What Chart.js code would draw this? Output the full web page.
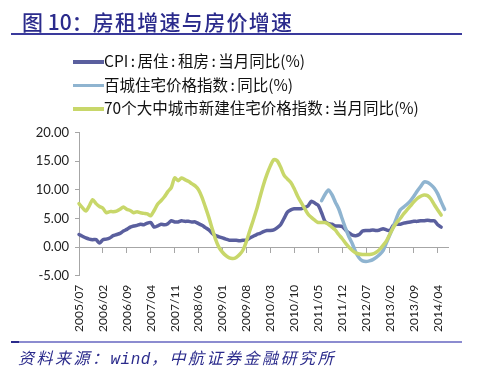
<!DOCTYPE html>
<html><head><meta charset="utf-8">
<script src="https://cdn.jsdelivr.net/npm/chart.js@4"></script>
<style>
html,body{margin:0;padding:0;background:#fff;}
#wrap{position:relative;width:480px;height:379px;overflow:hidden;background:#fff;}
#c{position:absolute;left:0;top:0;}
.title{position:absolute;left:22px;top:8px;font:500 21px "Noto Sans CJK SC";color:#2b2b8c;white-space:nowrap;line-height:26px;}
.title .cj{letter-spacing:1.3px;}
.rule1{position:absolute;left:11px;top:33px;width:451px;height:2px;background:#3a3a9c;}
.rule2{position:absolute;left:11px;top:341px;width:451px;height:2px;background:#8c8cd0;}
.rule2b{position:absolute;left:11px;top:341px;width:8px;height:2px;background:#2b2b8c;}
.src{position:absolute;left:18px;top:347px;font:italic 16px "Noto Sans CJK SC";letter-spacing:2.5px;color:#2b2b8c;white-space:nowrap;line-height:20px;}
.src .en{font-family:"Liberation Mono";letter-spacing:0.5px;}
#legend{position:absolute;left:73px;top:49px;}
.li{height:23.5px;line-height:20px;white-space:nowrap;font:15.5px "Noto Sans CJK SC";color:#111;}
.li .cl{margin:0 2.5px;}
.sw{display:inline-block;width:31px;height:3.5px;vertical-align:middle;margin-right:0px;position:relative;top:-1px;}
</style></head>
<body>
<div id="wrap">
<canvas id="c" width="480" height="379"></canvas>
<div class="title">图 10：<span class="cj">房租增速与房价增速</span></div>
<div class="rule1"></div>
<div id="legend"></div>
<div class="rule2"></div><div class="rule2b"></div>
<div class="src">资料来源：<span class="en">wind</span>，中航证券金融研究所</div>
</div>
<script>
// Categories (monthly, 2005/07 .. 2014/07)
const months = [
 '2005/07','2005/08','2005/09','2005/10','2005/11','2005/12',
 '2006/01','2006/02','2006/03','2006/04','2006/05','2006/06','2006/07','2006/08','2006/09','2006/10','2006/11','2006/12',
 '2007/01','2007/02','2007/03','2007/04','2007/05','2007/06','2007/07','2007/08','2007/09','2007/10','2007/11','2007/12',
 '2008/01','2008/02','2008/03','2008/04','2008/05','2008/06','2008/07','2008/08','2008/09','2008/10','2008/11','2008/12',
 '2009/01','2009/02','2009/03','2009/04','2009/05','2009/06','2009/07','2009/08','2009/09','2009/10','2009/11','2009/12',
 '2010/01','2010/02','2010/03','2010/04','2010/05','2010/06','2010/07','2010/08','2010/09','2010/10','2010/11','2010/12',
 '2011/01','2011/02','2011/03','2011/04','2011/05','2011/06','2011/07','2011/08','2011/09','2011/10','2011/11','2011/12',
 '2012/01','2012/02','2012/03','2012/04','2012/05','2012/06','2012/07','2012/08','2012/09','2012/10','2012/11','2012/12',
 '2013/01','2013/02','2013/03','2013/04','2013/05','2013/06','2013/07','2013/08','2013/09','2013/10','2013/11','2013/12',
 '2014/01','2014/02','2014/03','2014/04','2014/05','2014/06','2014/07'
];
// Tick labels shown on the category axis
const tickLabels = ['2005/07','2006/02','2006/09','2007/04','2007/11','2008/06','2009/01','2009/08',
 '2010/03','2010/10','2011/05','2011/12','2012/07','2013/02','2013/09','2014/04'];
const yTicks = [-5, 0, 5, 10, 15, 20];

const seriesNames = ['CPI:居住:租房:当月同比(%)', '百城住宅价格指数:同比(%)', '70个大中城市新建住宅价格指数:当月同比(%)'];

// CPI rent YoY, from 2005/07
const cpiRent = [2.2,1.9,1.6,1.4,1.3,1.3,0.7,1.3,1.4,1.6,
 2.0,2.2,2.4,2.8,3.1,3.5,3.7,3.8,4.0,3.9,
 4.2,4.3,3.5,3.7,4.0,3.9,4.1,4.6,4.4,4.4,
 4.6,4.5,4.5,4.4,4.4,4.1,3.8,3.4,3.0,2.4,
 2.0,1.8,1.6,1.4,1.2,1.2,1.2,1.1,1.2,1.2,
 1.6,1.9,2.2,2.4,2.7,2.9,2.9,3.0,3.4,3.9,
 5.0,6.1,6.5,6.7,6.7,6.7,6.9,7.2,8.0,7.7,
 7.3,6.0,4.5,4.1,4.0,3.7,3.7,3.6,3.0,2.5,
 2.1,2.0,2.2,2.8,2.9,2.9,3.0,2.9,3.0,3.2,
 3.0,2.9,3.8,4.0,4.0,4.2,4.3,4.4,4.5,4.5,
 4.6,4.6,4.7,4.6,4.6,3.9,3.5];
const cpiRentStart = '2005/07';

// 100-city housing price index YoY, from 2011/06
const hundredCity = [8.1,9.2,10.0,9.2,7.9,6.7,5.0,3.3,1.8,0.6,
 -0.9,-1.9,-2.4,-2.5,-2.4,-2.2,-1.8,-1.3,-0.6,0.8,
 2.2,3.6,5.2,6.5,7.0,7.5,8.1,8.9,9.8,10.6,
 11.4,11.3,10.9,10.3,9.3,7.9,6.6];
const hundredCityStart = '2011/06';

// 70 large/medium cities new housing price index YoY, from 2005/07
const seventyCity = [7.6,6.9,6.3,7.2,8.3,7.6,7.1,6.8,6.0,6.2,
 6.2,6.3,6.6,7.0,6.6,6.4,6.0,6.2,6.0,5.9,
 5.8,5.5,6.4,7.5,8.1,8.8,9.7,10.4,12.1,11.6,
 12.1,11.8,11.5,11.1,10.7,10.0,8.7,7.0,5.2,3.2,
 1.3,-0.1,-0.9,-1.5,-1.9,-2.0,-1.8,-1.3,-0.5,1.0,
 2.9,4.7,6.6,8.8,10.9,12.7,14.2,15.3,15.1,14.0,
 12.6,11.9,11.3,10.2,8.9,7.8,6.8,5.8,5.2,4.7,
 4.3,4.3,4.3,4.0,3.5,3.0,2.2,1.5,0.7,0.0,
 -0.6,-1.0,-1.2,-1.3,-1.3,-1.3,-1.2,-0.9,-0.4,0.3,
 1.1,2.3,3.4,4.3,5.0,5.8,6.5,7.2,7.9,8.5,
 8.9,9.1,9.0,8.4,7.4,6.5,5.6];
const seventyCityStart = '2005/07';

function align(values, start) {
  const s = months.indexOf(start);
  return months.map((m, i) => (i - s >= 0 && i - s < values.length) ? values[i - s] : null);
}

const colors = ['#5a5f9e', '#8fb4d0', '#c8d76a'];
const AXIS = '#a6a6a6';

const chart = new Chart(document.getElementById('c'), {
  type: 'line',
  data: {
    labels: months,
    datasets: [
      {label: seriesNames[0], data: align(cpiRent, cpiRentStart), borderColor: colors[0], order: 3},
      {label: seriesNames[1], data: align(hundredCity, hundredCityStart), borderColor: colors[1], order: 2},
      {label: seriesNames[2], data: align(seventyCity, seventyCityStart), borderColor: colors[2], order: 1}
    ].map(d => Object.assign(d, {borderWidth: 3.5, pointRadius: 0, tension: 0.25, fill: false, spanGaps: false, clip: 6, borderCapStyle: 'round', borderJoinStyle: 'round'}))
  },
  options: {
    responsive: false,
    animation: false,
    devicePixelRatio: 1,
    layout: {padding: {top: 132.7, right: 32, bottom: 0, left: 0}},
    plugins: {legend: {display: false}, title: {display: false}, tooltip: {enabled: false}},
    scales: {
      x: {
        type: 'category',
        position: 'bottom',
        offset: false,
        border: {display: false},
        grid: {display: false, drawTicks: false},
        ticks: {
          autoSkip: false, minRotation: 90, maxRotation: 90, padding: 9,
          color: '#222', font: {family: 'Lato', size: 12},
          callback: function(v, i) { const l = months[i]; return tickLabels.includes(l) ? l : ''; }
        },
        afterFit: s => { s.height = 103.3; }
      },
      x0: {
        type: 'category',
        position: {y: 0},
        offset: false,
        border: {display: true, color: AXIS, width: 1},
        grid: {drawOnChartArea: false, drawTicks: true, tickLength: 5,
               tickColor: ctx => tickLabels.includes(months[ctx.index]) ? AXIS : 'rgba(0,0,0,0)'},
        ticks: {display: false, autoSkip: false}
      },
      y: {
        min: yTicks[0], max: yTicks[yTicks.length - 1],
        border: {display: true, color: AXIS, width: 1},
        grid: {drawOnChartArea: false, drawTicks: true, tickLength: 4, tickColor: AXIS},
        afterBuildTicks: s => { s.ticks = yTicks.map(v => ({value: v})); },
        ticks: {padding: 6, color: '#222', font: {family: 'Lato', size: 13},
                callback: v => Number(v).toFixed(2)},
        afterFit: s => { s.width = 79; }
      }
    }
  }
});

// Legend built from the chart's datasets
const lg = document.getElementById('legend');
chart.data.datasets.forEach(ds => {
  const row = document.createElement('div');
  row.className = 'li';
  const sw = document.createElement('span');
  sw.className = 'sw';
  sw.style.background = ds.borderColor;
  row.appendChild(sw);
  ds.label.split(':').forEach((part, k) => {
    if (k > 0) {
      const c = document.createElement('span');
      c.className = 'cl';
      c.textContent = ':';
      row.appendChild(c);
    }
    row.appendChild(document.createTextNode(part));
  });
  lg.appendChild(row);
});
</script>
</body></html>
